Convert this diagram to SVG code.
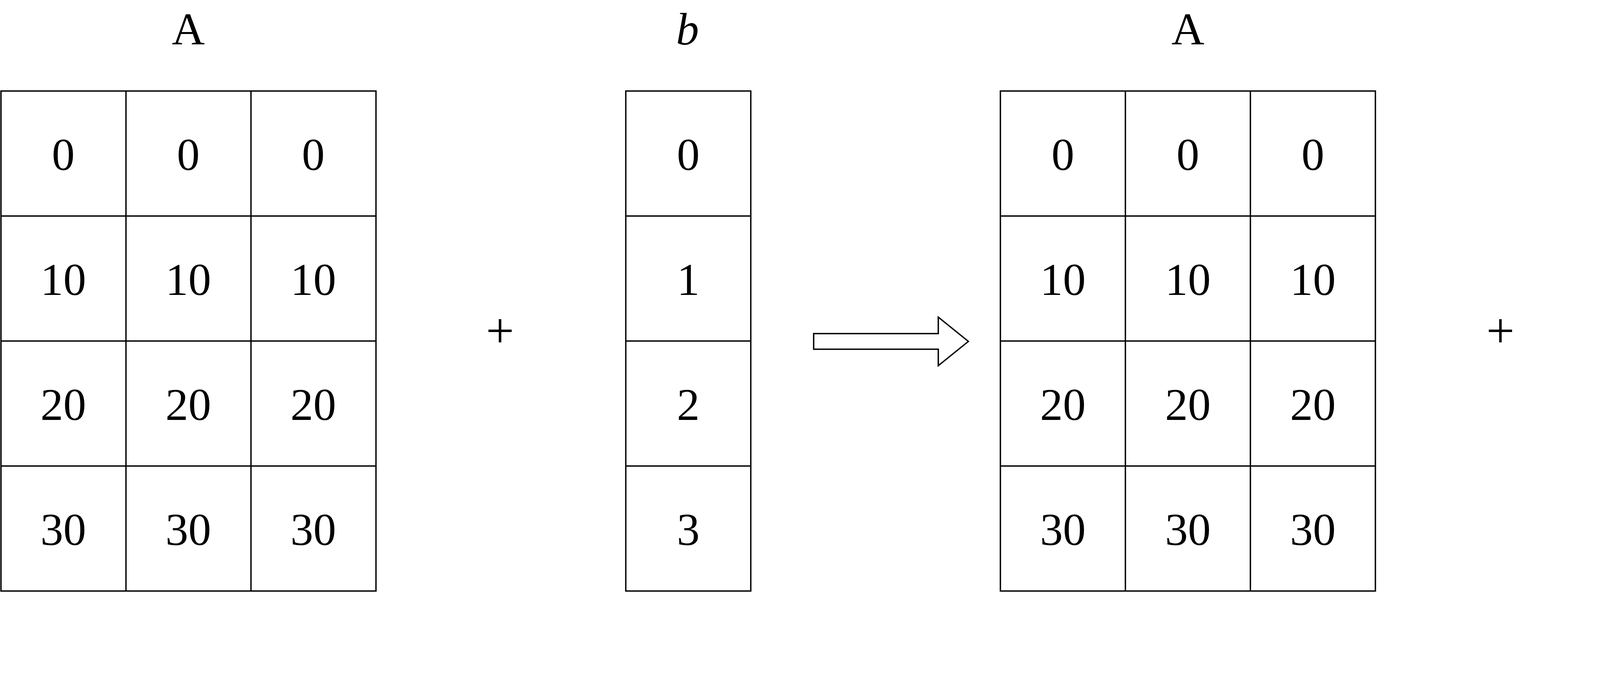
<svg xmlns="http://www.w3.org/2000/svg" width="6728" height="1728" viewBox="0 0 6728 1728">
<style>
.g{fill:none;stroke:#000;stroke-width:3.5}
.t{font-family:"Liberation Serif","Times New Roman",serif;font-size:117px;text-anchor:middle;fill:#000}
.i{font-style:italic}
.p{font-size:128px}
.ha{fill:#fff;stroke:#000;stroke-width:3.5;stroke-linejoin:miter}
.ba{fill:#000;stroke:none}
</style>
<rect width="6728" height="1728" fill="#fff"/>
<g id="label-A1"><text class="t" x="482" y="114">A</text></g>
<g id="label-b1"><text class="t i" x="1760" y="114">b</text></g>
<g id="label-A2"><text class="t" x="3041" y="114">A</text></g>
<g id="label-b2"><text class="t i" x="4316" y="114">b</text></g>

<g id="matrix-A1">
<rect class="g" x="2.5" y="233" width="960" height="1280"/>
<path class="g" d="M322.5 233V1513M642.5 233V1513M2.5 553H962.5M2.5 873H962.5M2.5 1193H962.5"/>
<text class="t" x="162" y="435">0</text><text class="t" x="482" y="435">0</text><text class="t" x="802" y="435">0</text>
<text class="t" x="162" y="755">10</text><text class="t" x="482" y="755">10</text><text class="t" x="802" y="755">10</text>
<text class="t" x="162" y="1075">20</text><text class="t" x="482" y="1075">20</text><text class="t" x="802" y="1075">20</text>
<text class="t" x="162" y="1395">30</text><text class="t" x="482" y="1395">30</text><text class="t" x="802" y="1395">30</text>
</g>

<g id="plus-1"><text class="t p" x="1280" y="889">+</text></g>

<g id="vector-b">
<rect class="g" x="1602" y="233" width="320" height="1280"/>
<path class="g" d="M1602 553H1922M1602 873H1922M1602 1193H1922"/>
<text class="t" x="1762" y="435">0</text>
<text class="t" x="1762" y="755">1</text>
<text class="t" x="1762" y="1075">2</text>
<text class="t" x="1762" y="1395">3</text>
</g>

<g id="matrix-A2">
<rect class="g" x="2561" y="233" width="960" height="1280"/>
<path class="g" d="M2881 233V1513M3201 233V1513M2561 553H3521M2561 873H3521M2561 1193H3521"/>
<text class="t" x="2721" y="435">0</text><text class="t" x="3041" y="435">0</text><text class="t" x="3361" y="435">0</text>
<text class="t" x="2721" y="755">10</text><text class="t" x="3041" y="755">10</text><text class="t" x="3361" y="755">10</text>
<text class="t" x="2721" y="1075">20</text><text class="t" x="3041" y="1075">20</text><text class="t" x="3361" y="1075">20</text>
<text class="t" x="2721" y="1395">30</text><text class="t" x="3041" y="1395">30</text><text class="t" x="3361" y="1395">30</text>
</g>

<g id="plus-2"><text class="t p" x="3841" y="889">+</text></g>

<g id="matrix-b-broadcast">
<rect class="g" x="4162" y="233" width="960" height="1280"/>
<path class="g" d="M4482 233V1513M4802 233V1513M4162 553H5122M4162 873H5122M4162 1193H5122"/>
<text class="t" x="4322" y="435">0</text><text class="t" x="4642" y="435">0</text><text class="t" x="4962" y="435">0</text>
<text class="t" x="4322" y="755">1</text><text class="t" x="4642" y="755">1</text><text class="t" x="4962" y="755">1</text>
<text class="t" x="4322" y="1075">2</text><text class="t" x="4642" y="1075">2</text><text class="t" x="4962" y="1075">2</text>
<text class="t" x="4322" y="1395">3</text><text class="t" x="4642" y="1395">3</text><text class="t" x="4962" y="1395">3</text>
</g>

<g id="matrix-result">
<rect class="g" x="5762" y="233" width="960" height="1280"/>
<path class="g" d="M6082 233V1513M6402 233V1513M5762 553H6722M5762 873H6722M5762 1193H6722"/>
<text class="t" x="5922" y="435">0+0</text><text class="t" x="6242" y="435">0+0</text><text class="t" x="6562" y="435">0+0</text>
<text class="t" x="5922" y="755">10+1</text><text class="t" x="6242" y="755">10+1</text><text class="t" x="6562" y="755">10+1</text>
<text class="t" x="5922" y="1075">20+2</text><text class="t" x="6242" y="1075">20+2</text><text class="t" x="6562" y="1075">20+2</text>
<text class="t" x="5922" y="1395">30+3</text><text class="t" x="6242" y="1395">30+3</text><text class="t" x="6562" y="1395">30+3</text>
</g>

<g id="connectors">
<polygon class="ha" points="2083,854 2402,854 2402,812 2479,874 2402,936 2402,894 2083,894"/>
<polygon class="ha" points="5283,854 5602,854 5602,812 5679,874 5602,936 5602,894 5283,894"/>
<polygon class="ba" points="4242,1661 4949,1661 4928,1617 5041,1674 4928,1731 4949,1687 4242,1687"/>
</g>
</svg>
